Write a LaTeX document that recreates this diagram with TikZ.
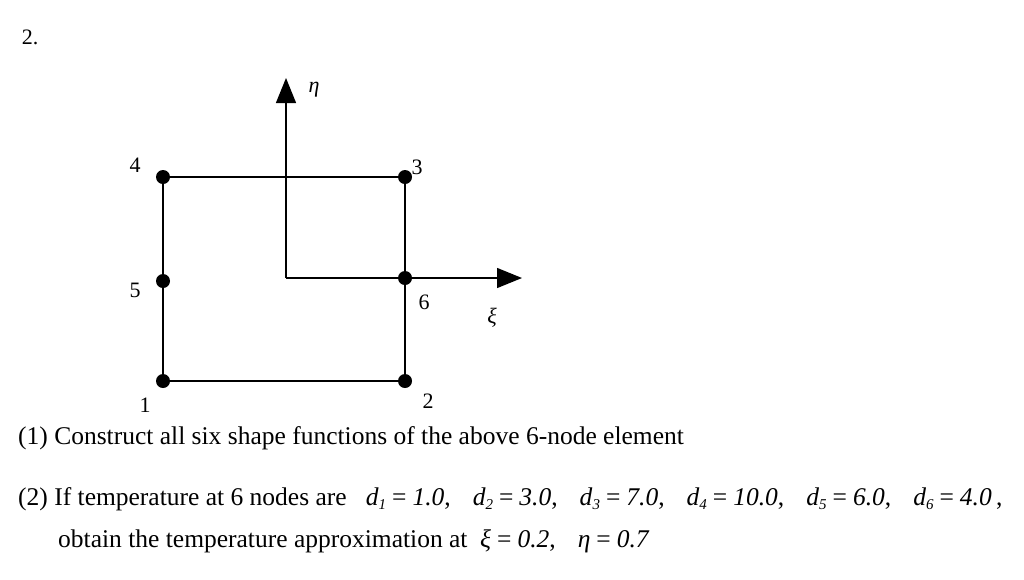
\documentclass[tikz,border=0pt]{standalone}
\usepackage{fontspec}
\setmainfont{Liberation Serif}
\usetikzlibrary{arrows.meta}
\newcommand{\dd}[1]{\textit{d}\raisebox{-4pt}{\fontsize{15}{15}\selectfont\textit{#1}}}
\newcommand{\eqs}{\hspace{6pt}=\hspace{6pt}}
\newcommand{\gap}{\hspace{22pt}}
\begin{document}
\begin{tikzpicture}[x=1pt,y=-1pt,
  dot/.style={circle,fill=black,inner sep=0pt,minimum size=14pt},
  lbl/.style={font=\fontsize{22}{26}\selectfont,inner sep=0pt},
  txt/.style={font=\fontsize{25.5}{30}\selectfont,inner sep=0pt,anchor=base west},
  ax/.style={line width=1.3pt,-{Triangle[length=25pt,width=20pt]}},
  edge/.style={line width=1.3pt}]
\useasboundingbox (0,0) rectangle (1024,579);
\node[lbl] (t2) at (30,37) {2.};
\node[dot] (n1) at (163,381) {};
\node[dot] (n2) at (405,381) {};
\node[dot] (n3) at (405,177) {};
\node[dot] (n4) at (163,177) {};
\node[dot] (n5) at (163,281) {};
\node[dot] (n6) at (405,278) {};
\coordinate (o) at (286,278);
\coordinate (et) at (286,78);
\coordinate (xt) at (522,278);
\draw[edge] (n1.center) -- (n2.center) -- (n3.center) -- (n4.center) -- (n1.center);
\draw[ax] (o) -- (et);
\draw[ax] (o) -- (xt);
\node[lbl] (l1) at (145,405) {1};
\node[lbl] (l2) at (428,401) {2};
\node[lbl] (l3) at (417,167) {3};
\node[lbl] (l4) at (135,165) {4};
\node[lbl] (l5) at (135,290) {5};
\node[lbl] (l6) at (424,302) {6};
\node[lbl] (eta) at (314,90) {\textit{η}};
\node[lbl] (xi) at (492,318) {\textit{ξ}};
\node[txt] (p1) at (18,444) {(1) Construct all six shape functions of the above 6-node element};
\node[txt] (p2) at (18,505) {(2) If temperature at 6 nodes are \ \ \dd{1}\eqs\textit{1.0},\gap\dd{2}\eqs\textit{3.0},\gap\dd{3}\eqs\textit{7.0},\gap\dd{4}\eqs\textit{10.0},\gap\dd{5}\eqs\textit{6.0},\gap\dd{6}\eqs\textit{4.0}\,,};
\node[txt] (p3) at (58,547) {obtain the temperature approximation at \ \textit{ξ}\eqs\textit{0.2},\gap\textit{η}\eqs\textit{0.7}};
\end{tikzpicture}
\end{document}
